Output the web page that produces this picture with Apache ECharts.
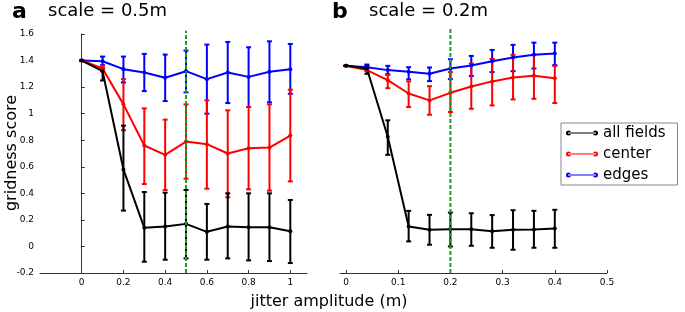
<!DOCTYPE html>
<html>
<head>
<meta charset="utf-8">
<script src="https://cdn.jsdelivr.net/npm/echarts@6/dist/echarts.min.js"></script>
<style>
  html, body { margin: 0; padding: 0; background: #fff; }
  #chart { width: 685px; height: 312px; }
</style>
</head>
<body>
<div id="chart"></div>
<script>
// panel a, scale = 0.5m
const xA = [0, 0.1, 0.2, 0.3, 0.4, 0.5, 0.6, 0.7, 0.8, 0.9, 1.0];
const allA = [1.40, 1.32, 0.58, 0.14, 0.15, 0.17, 0.11, 0.15, 0.145, 0.145, 0.115];
const allALo = [1.40, 1.25, 0.27, -0.115, -0.10, -0.09, -0.10, -0.09, -0.105, -0.11, -0.125];
const allAHi = [1.40, 1.34, 0.91, 0.41, 0.405, 0.425, 0.32, 0.40, 0.40, 0.40, 0.35];
const centerA = [1.40, 1.34, 1.07, 0.76, 0.69, 0.79, 0.77, 0.70, 0.74, 0.745, 0.835];
const centerALo = [1.40, 1.32, 0.875, 0.47, 0.425, 0.51, 0.435, 0.37, 0.43, 0.42, 0.49];
const centerAHi = [1.40, 1.36, 1.26, 1.04, 0.955, 1.07, 1.10, 1.025, 1.05, 1.07, 1.18];
const edgesA = [1.40, 1.395, 1.335, 1.31, 1.27, 1.32, 1.26, 1.31, 1.277, 1.315, 1.335];
const edgesALo = [1.40, 1.365, 1.235, 1.17, 1.095, 1.16, 1.00, 1.08, 1.05, 1.085, 1.15];
const edgesAHi = [1.40, 1.43, 1.43, 1.45, 1.445, 1.475, 1.52, 1.54, 1.50, 1.545, 1.525];

// panel b, scale = 0.2m
const xB = [0, 0.04, 0.08, 0.12, 0.16, 0.20, 0.24, 0.28, 0.32, 0.36, 0.40];
const allB = [1.36, 1.34, 0.826, 0.15, 0.125, 0.13, 0.13, 0.115, 0.125, 0.128, 0.135];
const allBLo = [1.36, 1.30, 0.69, 0.038, 0.013, 0.0, 0.005, -0.01, -0.025, -0.01, -0.01];
const allBHi = [1.36, 1.36, 0.95, 0.268, 0.238, 0.255, 0.25, 0.236, 0.273, 0.268, 0.276];
const centerB = [1.36, 1.328, 1.252, 1.152, 1.10, 1.157, 1.205, 1.243, 1.273, 1.285, 1.267];
const centerBLo = [1.36, 1.32, 1.192, 1.05, 0.992, 1.012, 1.037, 1.062, 1.107, 1.112, 1.08];
const centerBHi = [1.36, 1.34, 1.292, 1.243, 1.207, 1.313, 1.378, 1.412, 1.443, 1.445, 1.36];
const edgesB = [1.36, 1.35, 1.328, 1.315, 1.30, 1.34, 1.363, 1.395, 1.423, 1.443, 1.453];
const edgesBLo = [1.36, 1.34, 1.297, 1.258, 1.245, 1.26, 1.283, 1.313, 1.32, 1.34, 1.365];
const edgesBHi = [1.36, 1.37, 1.36, 1.35, 1.348, 1.41, 1.435, 1.48, 1.518, 1.535, 1.535];

const xTicksA = [0, 0.2, 0.4, 0.6, 0.8, 1];
const xTicksB = [0, 0.1, 0.2, 0.3, 0.4, 0.5];
// dashed reference lines: x position and top y value
const refA = [0.5, 1.625];
const refB = [0.2, 1.64];

const FONT = "DejaVu Sans";
const COLORS = { "all fields": "#000000", center: "#ff0000", edges: "#0000ff" };

function pairs(xs, ys) { return xs.map((x, i) => [x, ys[i]]); }
function triples(xs, lo, hi) { return xs.map((x, i) => [x, lo[i], hi[i]]); }

function errRender(params, api) {
  const x = api.value(0);
  const p1 = api.coord([x, api.value(1)]);
  const p2 = api.coord([x, api.value(2)]);
  const w = 2.5;
  const style = { stroke: api.visual("color"), lineWidth: 2 };
  return {
    type: "group",
    children: [
      { type: "line", shape: { x1: p1[0], y1: p1[1], x2: p2[0], y2: p2[1] }, style: style },
      { type: "line", shape: { x1: p1[0] - w, y1: p1[1], x2: p1[0] + w, y2: p1[1] }, style: style },
      { type: "line", shape: { x1: p2[0] - w, y1: p2[1], x2: p2[0] + w, y2: p2[1] }, style: style },
    ],
  };
}

function lineSeries(name, idx, xs, ys) {
  return {
    name: name,
    type: "line",
    xAxisIndex: idx,
    yAxisIndex: idx,
    data: pairs(xs, ys),
    symbol: "circle",
    symbolSize: 4,
    color: COLORS[name],
    lineStyle: { width: 2, color: COLORS[name] },
    itemStyle: { color: COLORS[name] },
    animation: false,
    z: 3,
  };
}

function errSeries(name, idx, xs, lo, hi) {
  return {
    name: name + " err",
    type: "custom",
    xAxisIndex: idx,
    yAxisIndex: idx,
    data: triples(xs, lo, hi),
    encode: { x: 0, y: [1, 2] },
    renderItem: errRender,
    itemStyle: { color: COLORS[name] },
    animation: false,
    z: 3,
  };
}

function refLine(idx, ref) {
  return {
    name: "ref" + idx,
    type: "line",
    xAxisIndex: idx,
    yAxisIndex: idx,
    data: [[ref[0], -0.2], [ref[0], ref[1]]],
    symbol: "none",
    silent: true,
    clip: false,
    animation: false,
    lineStyle: { color: "#1f9a1f", type: [4, 2], width: 2 },
    z: 5,
  };
}

function xAxisCfg(idx, min, max, ticks) {
  return {
    type: "value",
    gridIndex: idx,
    min: min,
    max: max,
    axisLine: { show: true, onZero: false, lineStyle: { color: "#333", width: 1 } },
    axisTick: { show: true, inside: true, length: 3, customValues: ticks, lineStyle: { color: "#333" } },
    axisLabel: {
      customValues: ticks,
      fontFamily: FONT,
      fontSize: 9,
      color: "#000",
      margin: 5,
      formatter: (v) => String(Math.round(v * 10) / 10),
    },
    splitLine: { show: false },
  };
}

const chart = echarts.init(document.getElementById("chart"), null, { renderer: "canvas" });

const option = {
  backgroundColor: "#fff",
  animation: false,
  grid: [
    { left: 40, top: 34, width: 267, height: 239 },
    { left: 340, top: 34, width: 267, height: 239 },
  ],
  xAxis: [xAxisCfg(0, -0.2, 1.08, xTicksA), xAxisCfg(1, -0.0115, 0.5, xTicksB)],
  yAxis: [
    {
      type: "value",
      gridIndex: 0,
      min: -0.2,
      max: 1.6,
      interval: 0.2,
      axisLine: { show: true, lineStyle: { color: "#333", width: 1 } },
      axisTick: { show: true, inside: true, length: 3, lineStyle: { color: "#333" } },
      axisLabel: {
        fontFamily: FONT,
        fontSize: 9,
        color: "#000",
        margin: 6,
        formatter: (v) => String(Math.round(v * 10) / 10),
      },
      splitLine: { show: false },
    },
    {
      type: "value",
      gridIndex: 1,
      min: -0.2,
      max: 1.6,
      show: false,
      splitLine: { show: false },
    },
  ],
  legend: {
    data: ["all fields", "center", "edges"],
    orient: "vertical",
    left: 561,
    top: 123,
    backgroundColor: "#fff",
    borderColor: "#888",
    borderWidth: 1,
    borderRadius: 0,
    padding: [1, 12, 1, 5],
    itemGap: 3,
    itemWidth: 32,
    itemHeight: 6,
    itemTextGap: 9,
    icon: "path://M2,2.5h28v1h-28z M0,3a2.5,2.5 0 1,0 5,0a2.5,2.5 0 1,0 -5,0 M27,3a2.5,2.5 0 1,0 5,0a2.5,2.5 0 1,0 -5,0",
    textStyle: { fontFamily: FONT, fontSize: 15, color: "#000", lineHeight: 18 },
    selectedMode: false,
  },
  graphic: [
    { type: "text", left: 12, top: 1, style: { text: "a", font: "bold 22px " + FONT, fill: "#000" } },
    { type: "text", left: 48, top: 2, style: { text: "scale = 0.5m", font: "18px " + FONT, fill: "#000" } },
    { type: "text", left: 332, top: 1, style: { text: "b", font: "bold 22px " + FONT, fill: "#000" } },
    { type: "text", left: 369, top: 2, style: { text: "scale = 0.2m", font: "18px " + FONT, fill: "#000" } },
    {
      type: "text",
      x: 4,
      y: 153,
      rotation: Math.PI / 2,
      style: { text: "gridness score", font: "16px " + FONT, fill: "#000", align: "center", verticalAlign: "top" },
    },
    {
      type: "text",
      x: 329,
      y: 302,
      style: { text: "jitter amplitude (m)", font: "16px " + FONT, fill: "#000", align: "center", verticalAlign: "middle" },
    },
  ],
  series: [
    errSeries("edges", 0, xA, edgesALo, edgesAHi),
    lineSeries("edges", 0, xA, edgesA),
    errSeries("center", 0, xA, centerALo, centerAHi),
    lineSeries("center", 0, xA, centerA),
    errSeries("all fields", 0, xA, allALo, allAHi),
    lineSeries("all fields", 0, xA, allA),
    refLine(0, refA),

    errSeries("edges", 1, xB, edgesBLo, edgesBHi),
    lineSeries("edges", 1, xB, edgesB),
    errSeries("center", 1, xB, centerBLo, centerBHi),
    lineSeries("center", 1, xB, centerB),
    errSeries("all fields", 1, xB, allBLo, allBHi),
    lineSeries("all fields", 1, xB, allB),
    refLine(1, refB),
  ],
};

chart.setOption(option);
</script>
</body>
</html>
